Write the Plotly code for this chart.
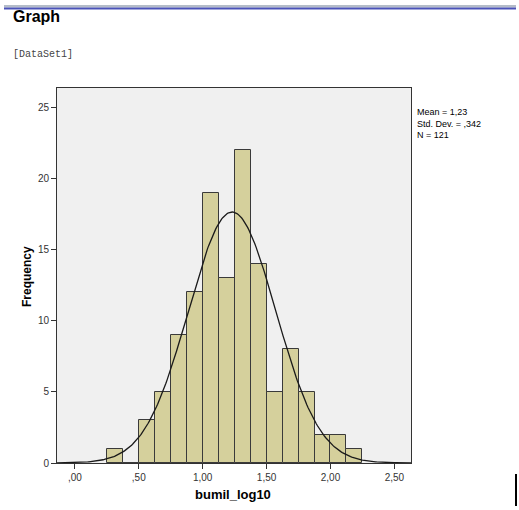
import numpy as np
import plotly.graph_objects as go

# histogram of bumil_log10 (bin width 0.125)
bin_centers = [0.3125, 0.4375, 0.5625, 0.6875, 0.8125, 0.9375, 1.0625, 1.1875,
               1.3125, 1.4375, 1.5625, 1.6875, 1.8125, 1.9375, 2.0625, 2.1875]
counts = [1, 0, 3, 5, 9, 12, 19, 13, 22, 14, 5, 8, 5, 2, 2, 1]
bin_width = 0.125

mean_val = 1.23
std_val = 0.342
n_val = 121

x_tickvals = [0.0, 0.5, 1.0, 1.5, 2.0, 2.5]
x_ticktext = [",00", ",50", "1,00", "1,50", "2,00", "2,50"]
y_tickvals = [0, 5, 10, 15, 20, 25]

W, H = 519, 510
L, R, T, B = 57, 411, 88, 463


def px(x):
    return (x - L) / (R - L)


def py(y):
    return (B - y) / (B - T)


fig = go.Figure()
fig.add_trace(go.Bar(
    x=bin_centers, y=counts, width=bin_width,
    marker=dict(color="#D5D09C", line=dict(color="#3a3a3a", width=1)),
    showlegend=False, hoverinfo="x+y"
))

# fitted normal curve
xs = np.linspace(-0.14, 2.63, 300)
ys = n_val * bin_width * np.exp(-0.5 * ((xs - mean_val) / std_val) ** 2) / (std_val * np.sqrt(2 * np.pi))
fig.add_trace(go.Scatter(x=xs, y=ys, mode="lines", line=dict(color="#1a1a1a", width=1.3),
                         showlegend=False, hoverinfo="skip"))

font = "Arial, Liberation Sans, sans-serif"
fig.update_layout(
    width=W, height=H,
    margin=dict(l=L, r=W - R, t=T, b=H - B),
    paper_bgcolor="white",
    plot_bgcolor="#F0F0F0",
    font=dict(family=font, size=10, color="#333"),
    bargap=0,
)
fig.update_xaxes(
    range=[-0.14, 2.63], tickvals=x_tickvals, ticktext=x_ticktext,
    showgrid=False, zeroline=False, showline=True, mirror=True,
    linecolor="#333", linewidth=1, ticks="outside", ticklen=5, tickcolor="#333",
    tickfont=dict(size=10, color="#333")
)
fig.update_yaxes(
    range=[0, 26.36], tickvals=y_tickvals,
    showgrid=False, zeroline=False, showline=True, mirror=True,
    linecolor="#333", linewidth=1, ticks="outside", ticklen=5, tickcolor="#333",
    tickfont=dict(size=10, color="#333")
)

ann = [
    dict(text="<b>Graph</b>", x=px(11), y=py(16), xanchor="left", yanchor="middle",
         font=dict(family=font, size=16, color="black")),
    dict(text="[DataSet1]", x=px(11), y=py(55), xanchor="left", yanchor="middle",
         font=dict(family="Liberation Mono, DejaVu Sans Mono, monospace", size=10, color="#444")),
    dict(text="<b>Frequency</b>", x=px(27), y=py(277), xanchor="center", yanchor="middle",
         textangle=-90, font=dict(family=font, size=12, color="black")),
    dict(text="<b>bumil_log10</b>", x=px(233), y=py(494), xanchor="center", yanchor="middle",
         font=dict(family=font, size=13, color="black")),
    dict(text="Mean = 1,23<br>Std. Dev. = ,342<br>N = 121", x=px(415), y=py(105),
         xanchor="left", yanchor="top", align="left",
         font=dict(family=font, size=9, color="black")),
]
for a in ann:
    a.update(xref="paper", yref="paper", showarrow=False)
fig.update_layout(annotations=ann)

shapes = [
    # header rule
    dict(type="rect", x0=px(4), x1=px(516), y0=py(5), y1=py(7.5),
         fillcolor="#B4BCC8", line=dict(width=0)),
    dict(type="rect", x0=px(4), x1=px(516), y0=py(7.5), y1=py(9.5),
         fillcolor="#4A52B8", line=dict(width=0)),
    # text cursor
    dict(type="line", x0=px(516), x1=px(516), y0=py(474), y1=py(506),
         line=dict(color="black", width=2)),
]
for s in shapes:
    s.update(xref="paper", yref="paper")
fig.update_layout(shapes=shapes)

fig.write_html("out.html", config={"displayModeBar": False},
               post_script="document.body.style.margin='0';")
